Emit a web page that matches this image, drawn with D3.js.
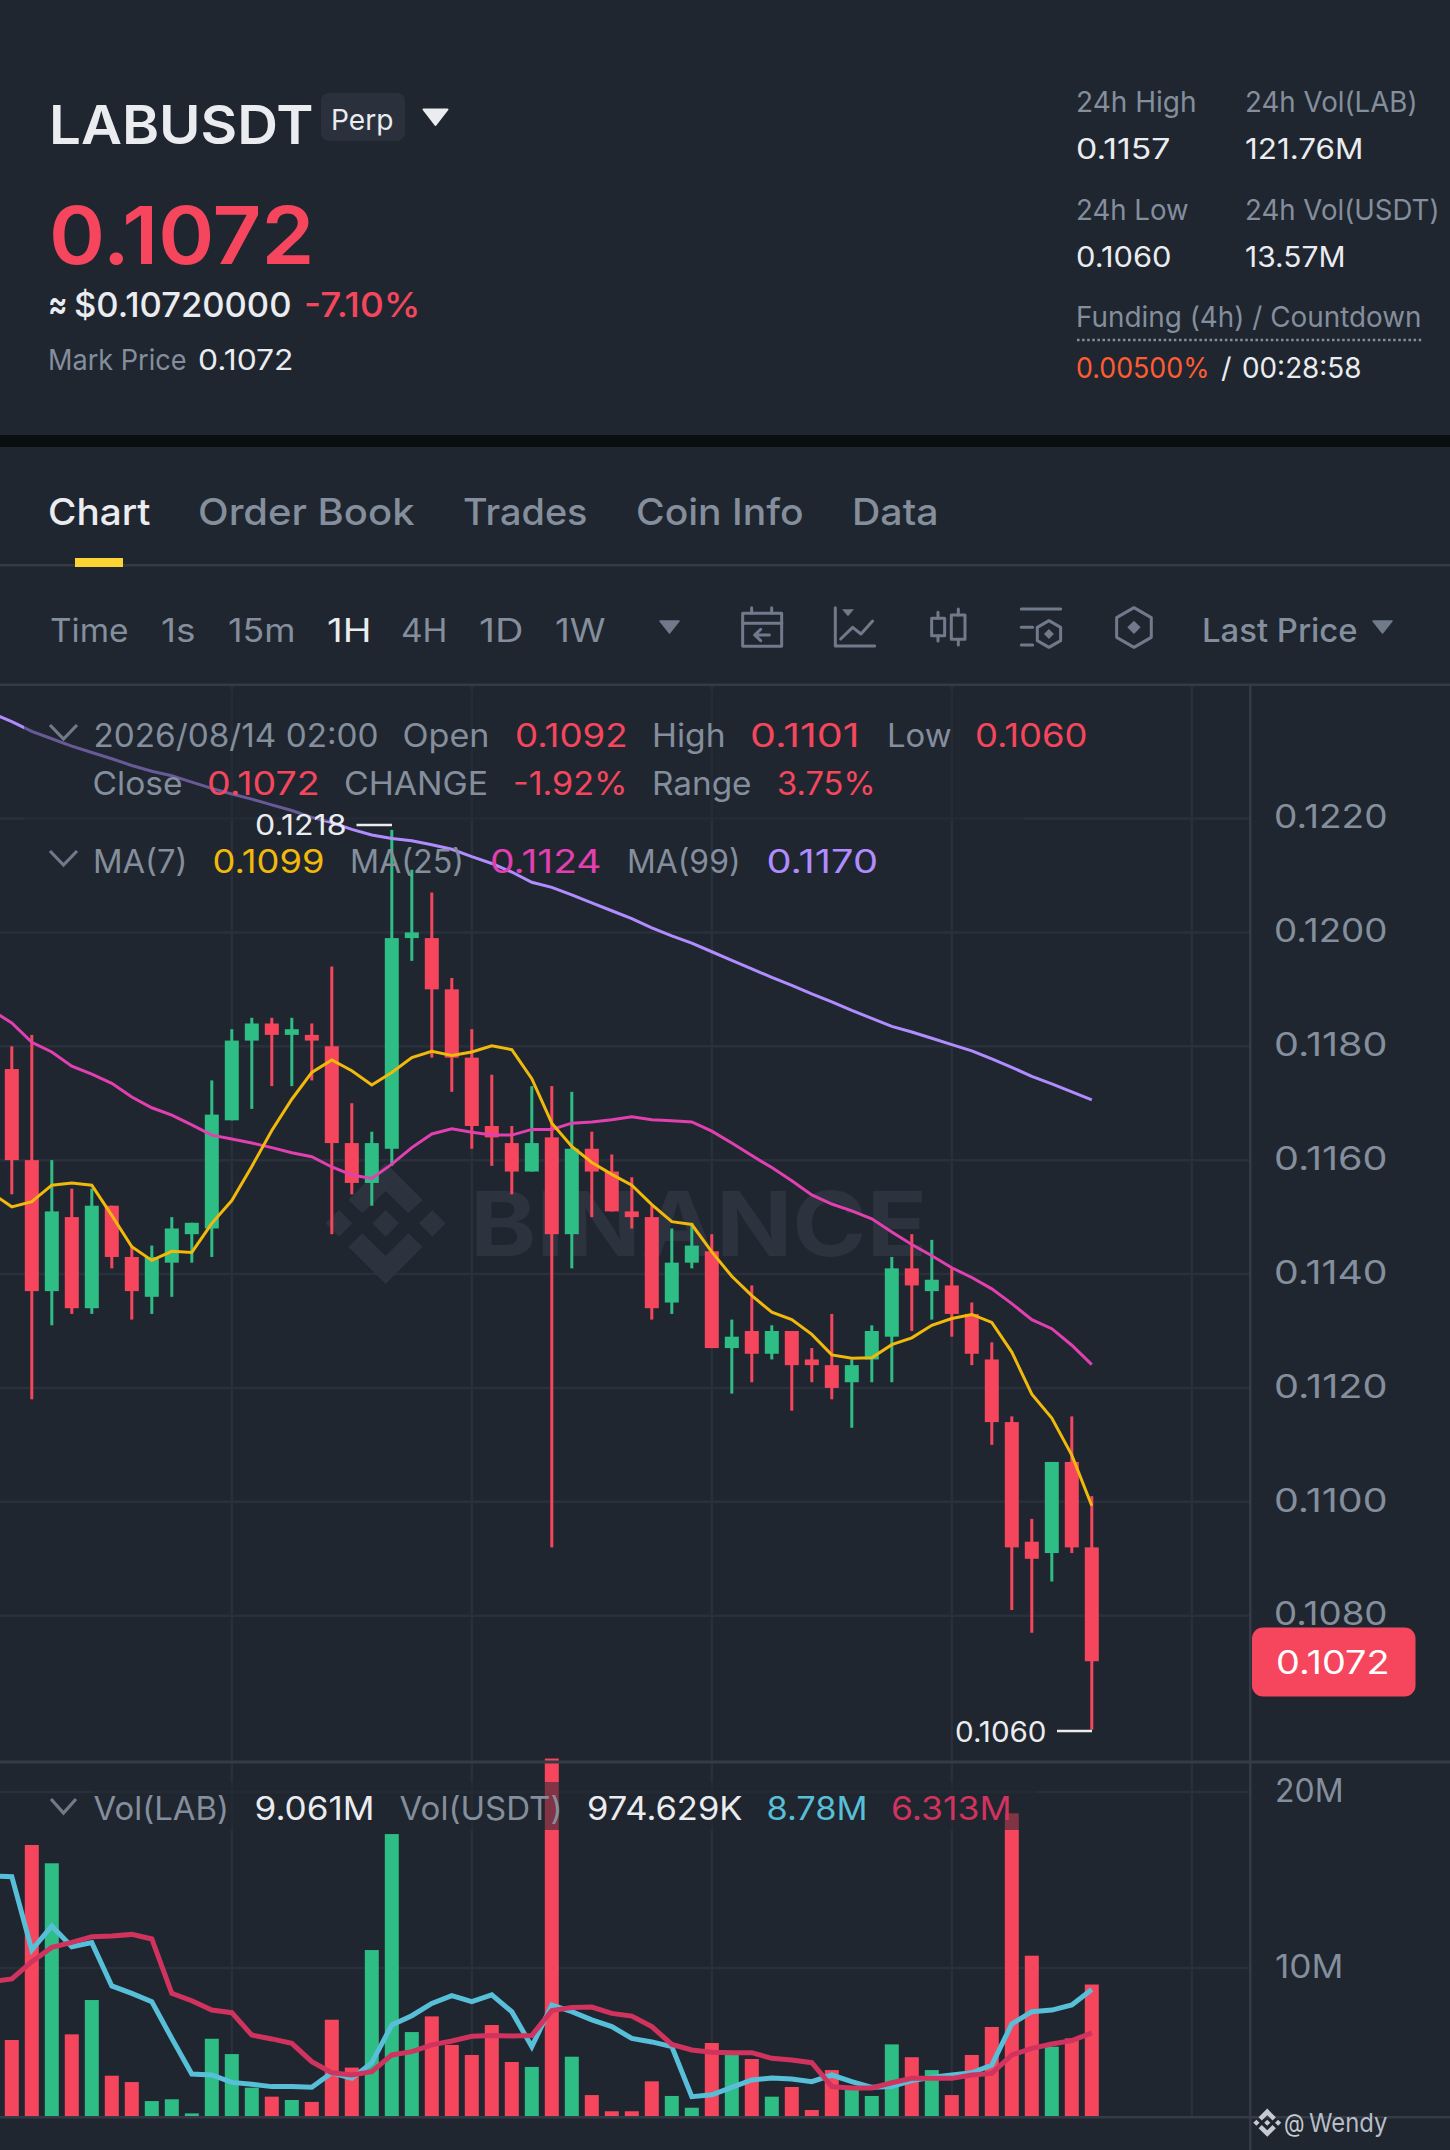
<!DOCTYPE html>
<html>
<head>
<meta charset="utf-8">
<script src="https://cdn.jsdelivr.net/npm/d3@7"></script>
<style>
html,body{margin:0;padding:0;background:#1f2630;}
svg{display:block;font-family:Inter,"Noto Sans",sans-serif;}
</style>
</head>
<body>
<svg id="c" width="1450" height="2150"></svg>
<script>
// ---------- data ----------
const opens  = [.1176,.1160,.1137,.1150,.1134,.1152,.1143,.1136,.1142,.1147,.1148,.1167,.1181,.1184,.1182,.1182,.1180,.1163,.1156,.1162,.1199,.1199,.1190,.1178,.1166,.1163,.1158,.1164,.1147,.1162,.1158,.1151,.1150,.1135,.1142,.1144,.1127,.1130,.1126,.1130,.1125,.1124,.1121,.1125,.1129,.1141,.1137,.1138,.1133,.1125,.1114,.1093,.1091,.1107,.1092];
const highs  = [.1180,.1182,.1160,.1155,.1155,.1152,.1145,.1145,.1150,.1149,.1174,.1183,.1185,.1185,.1185,.1184,.1194,.1170,.1165,.1218,.1211,.1207,.1192,.1183,.1175,.1166,.1173,.1173,.1172,.1165,.1161,.1157,.1152,.1148,.1149,.1147,.1132,.1138,.1131,.1130,.1127,.1133,.1125,.1131,.1143,.1147,.1146,.1141,.1135,.1128,.1115,.1097,.1107,.1115,.1101];
const lows   = [.1154,.1118,.1131,.1133,.1133,.1141,.1132,.1133,.1136,.1142,.1143,.1167,.1169,.1173,.1173,.1174,.1147,.1154,.1152,.1159,.1195,.1178,.1172,.1162,.1159,.1154,.1158,.1092,.1141,.1150,.1151,.1148,.1132,.1133,.1141,.1127,.1119,.1121,.1125,.1116,.1121,.1118,.1113,.1121,.1121,.1130,.1132,.1129,.1124,.1110,.1081,.1077,.1086,.1091,.1060];
const closes = [.1160,.1137,.1151,.1134,.1152,.1143,.1137,.1143,.1148,.1149,.1168,.1181,.1184,.1182,.1183,.1181,.1163,.1156,.1163,.1199,.1200,.1190,.1178,.1166,.1164,.1158,.1163,.1147,.1162,.1158,.1151,.1150,.1134,.1142,.1145,.1127,.1129,.1126,.1130,.1124,.1124,.1120,.1124,.1130,.1141,.1138,.1139,.1133,.1126,.1114,.1092,.1090,.1107,.1092,.1072];
const volumes = [5.91,16.99,15.95,6.23,8.18,3.88,3.52,2.44,2.54,1.74,5.98,5.11,3.20,2.69,2.50,2.39,7.06,4.34,11.02,17.61,6.36,7.25,5.63,5.06,6.76,4.66,4.38,21.9,4.96,2.78,1.86,1.86,3.56,2.73,2.06,5.74,5.06,4.83,2.69,3.24,1.93,4.20,3.07,2.73,5.66,4.93,4.20,2.78,5.06,6.65,18.79,10.70,5.53,6.00,9.061];
// moving averages: first value belongs to the candle just left of the frame
const ma7  = [.11542,.11518,.11527,.11556,.11560,.11556,.11503,.11448,.11424,.11440,.11438,.11489,.11529,.11589,.11652,.11707,.11754,.11776,.11757,.11732,.11754,.11780,.11791,.11784,.11790,.11801,.11794,.11743,.11665,.11624,.11596,.11575,.11556,.11522,.11492,.11487,.11439,.11396,.11362,.11333,.11320,.11294,.11258,.11252,.11253,.11276,.11288,.11310,.11322,.11329,.11315,.11263,.11189,.11147,.11082,.10993];
const ma25 = [.11863,.11841,.11807,.11790,.11765,.11751,.11735,.11711,.11692,.11679,.11662,.11644,.11637,.11630,.11622,.11613,.11606,.11588,.11574,.11568,.11593,.11622,.11646,.11655,.11649,.11644,.11644,.11654,.11654,.11665,.11667,.11671,.11676,.11671,.11669,.11667,.11651,.11630,.11608,.11587,.11564,.11539,.11523,.11511,.11497,.11474,.11452,.11432,.11411,.11394,.11374,.11348,.11320,.11304,.11275,.11241];
const ma99 = [.12385,.12370,.12353,.12340,.12327,.12316,.12305,.12293,.12283,.12275,.12264,.12253,.12243,.12234,.12224,.12214,.12202,.12193,.12181,.12171,.12165,.12161,.12154,.12146,.12133,.12121,.12106,.12088,.12079,.12066,.12052,.12038,.12024,.12008,.11994,.11981,.11966,.11951,.11936,.11921,.11907,.11892,.11878,.11863,.11849,.11835,.11825,.11814,.11803,.11792,.11778,.11763,.11747,.11734,.11720,.11706];
const volMa7  = [15.23,15.19,11.02,12.39,11.21,11.44,8.98,8.56,8.09,6.00,3.98,3.92,3.50,3.39,3.26,3.26,3.22,4.05,3.73,4.62,6.76,7.29,7.99,8.43,8.09,8.47,7.52,5.53,7.90,7.52,7.05,6.67,6.00,5.80,5.53,2.69,2.80,3.22,3.64,3.75,3.69,3.54,3.92,3.54,3.22,3.26,3.60,3.79,3.92,4.05,4.49,6.82,7.52,7.61,7.90,8.78];
const volMa25 = [9.22,9.38,10.36,11.17,11.46,11.78,11.82,11.91,11.65,8.56,8.14,7.61,7.46,6.19,5.97,5.72,4.68,4.05,3.92,4.11,5.06,5.25,5.63,5.85,6.12,6.16,6.14,6.17,7.58,7.76,7.78,7.42,7.27,6.67,5.66,5.34,5.21,5.19,5.19,4.87,4.77,4.62,3.26,3.18,3.18,3.48,3.73,3.73,3.73,3.92,4.01,5.06,5.43,5.68,5.87,6.313];
const priceTicks = [.1220,.1200,.1180,.1160,.1140,.1120,.1100,.1080];
const volumeTicks = [10,20];
const timeGridIndex = [11,23,35,47,59];
const tabLabels = ["Chart","Order Book","Trades","Coin Info","Data"];
const intervalLabels = ["Time","1s","15m","1H","4H","1D","1W"];

// ---------- palette ----------
const BG="#1f2630",UP="#2ebd85",DOWN="#f6465d",MUTED="#848e9c",WHITE="#eaecef",
      GRID="#29303b",LINE="#343b47",YEL="#f0b90b",PINK="#e23fb0",PUR="#b18cff",
      CYAN="#58bfd8",CRIM="#d1335f",ICON="#707a8a";

const svg=d3.select("#c");
svg.append("rect").attr("width",1450).attr("height",2150).attr("fill",BG);

function txt(str,x,y,size,fill,width,weight,g){
  const t=(g||svg).append("text").attr("x",x-1).attr("y",y).attr("font-size",size)
    .attr("fill",fill).attr("font-weight",weight||400).text(str);
  if(width){t.attr("textLength",width+1.5).attr("lengthAdjust","spacingAndGlyphs");}
  return t;
}

// ---------- scales ----------
const x=d3.scaleLinear().domain([0,54]).range([11.8,1091.8]);
const yP=d3.scaleLinear().domain([.1220,.1080]).range([818.5,1615.7]);
const yV=d3.scaleLinear().domain([0,20]).range([2144,1792]);
const BODY=14;

// ---------- header ----------
txt("LABUSDT",50,143.5,54,WHITE,263,600);
svg.append("rect").attr("x",321).attr("y",93).attr("width",84).attr("height",48).attr("rx",8).attr("fill","#2a313c");
txt("Perp",332,129.5,28,WHITE,61,400);
svg.append("path").attr("d","M423.5 109.5H447.5L435.5 125Z").attr("fill",WHITE).attr("stroke",WHITE).attr("stroke-width",2).attr("stroke-linejoin","round");
txt("0.1072",50,264,80,DOWN,264,600);
txt("≈",49,317,38,WHITE,18,600);
txt("$0.10720000",75,317,34,WHITE,216,500);
txt("-7.10%",305,317,34,DOWN,115,500);
txt("Mark Price",49,369.5,28,MUTED,137);
txt("0.1072",199,369.5,28,WHITE,94);

txt("24h High",1077,111.5,28,MUTED,119);
txt("24h Vol(LAB)",1246,111.5,28,MUTED,171);
txt("0.1157",1077,159,28,WHITE,93);
txt("121.76M",1246,159,28,WHITE,117);
txt("24h Low",1077,219.5,28,MUTED,111);
txt("24h Vol(USDT)",1246,219.5,28,MUTED,193);
txt("0.1060",1077,267,28,WHITE,94);
txt("13.57M",1246,267,28,WHITE,99);
txt("Funding (4h) / Countdown",1077,327,28,MUTED,344);
svg.append("line").attr("x1",1077).attr("x2",1422).attr("y1",340).attr("y2",340).attr("stroke",MUTED).attr("stroke-width",2.5).attr("stroke-dasharray","2.5 2.6");
txt("0.00500%",1077,378,28,"#ff5c33",132);
txt("/",1222,378,28,WHITE,9);
txt("00:28:58",1243,378,28,WHITE,118);

svg.append("rect").attr("y",435).attr("width",1450).attr("height",12).attr("fill","#0b0e11");

// ---------- tabs ----------
const tabX=[49,199,464,637,853], tabW=[101,215,123,166,85];
tabLabels.forEach((s,i)=>txt(s,tabX[i],524.5,37,i==0?WHITE:MUTED,tabW[i],500));
svg.append("rect").attr("y",564).attr("width",1450).attr("height",2.5).attr("fill",LINE);
svg.append("rect").attr("x",75).attr("y",558).attr("width",48).attr("height",9).attr("fill","#fcd535");

// ---------- toolbar ----------
const intX=[51,162,229,328,402,480,556], intW=[77,33,66,43,45,43,49];
intervalLabels.forEach((s,i)=>txt(s,intX[i],641.5,32,s=="1H"?WHITE:MUTED,intW[i]));
svg.append("path").attr("d","M660 621H679L669.5 633Z").attr("fill",ICON).attr("stroke",ICON).attr("stroke-width",1.5).attr("stroke-linejoin","round");
txt("Last Price",1203,641.5,32,MUTED,154,500);
svg.append("path").attr("d","M1373 621H1392L1382.5 633Z").attr("fill",ICON).attr("stroke",ICON).attr("stroke-width",1.5).attr("stroke-linejoin","round");
const ic=svg.append("g").attr("transform","translate(730,595) scale(0.3333)").attr("fill","none").attr("stroke",ICON).attr("stroke-width",9).attr("stroke-linecap","round").attr("stroke-linejoin","round");
["M38 55H155V154H38Z","M38 85H155","M65 38V55","M125 38V55","M118 120H74M92 103L74 120L92 137",
 "M316 38V153H434","M332 132L368 97L393 117L428 78",
 "M605 70H644V122H605Z","M624 52V70M624 122V138","M664 60H705V133H664Z","M685 42V60M685 133V150",
 "M874 42H992","M874 97H908","M874 150H908","M957 77L992 97V137L957 157L922 137V97Z",
 "M1212 38L1264 68V127L1212 157L1160 127V68Z"
].forEach(d=>ic.append("path").attr("d",d));
ic.append("path").attr("d","M336 43H372L354 64Z").attr("fill",ICON).attr("stroke","none");
ic.append("path").attr("d","M957 102L972 117L957 132L942 117Z").attr("fill",ICON).attr("stroke","none");
ic.append("path").attr("d","M1212 77L1232 97L1212 117L1192 97Z").attr("fill",ICON).attr("stroke","none");
svg.append("rect").attr("y",683.5).attr("width",1450).attr("height",2.5).attr("fill",LINE);

// ---------- grid ----------
const grid=svg.append("g").attr("stroke",GRID).attr("stroke-width",2.5);
timeGridIndex.forEach(i=>grid.append("line").attr("x1",x(i)).attr("x2",x(i)).attr("y1",686).attr("y2",2117));
priceTicks.forEach(p=>grid.append("line").attr("x1",0).attr("x2",1250).attr("y1",yP(p)).attr("y2",yP(p)));
volumeTicks.forEach(v=>grid.append("line").attr("x1",0).attr("x2",1250).attr("y1",yV(v)).attr("y2",yV(v)));

// ---------- watermark ----------
const LOGO=["M85 120L197 8L308 120L265 160L197 93L127 160Z","M85 260L127 220L197 288L265 220L308 260L197 372Z",
  "M197 150L237 190L197 230L157 190Z","M57 150L97 190L57 230L17 190Z","M337 150L377 190L337 230L297 190Z"];
const wm=svg.append("g").attr("transform","translate(320,1160) scale(0.3333)").attr("fill","#2d333e");
LOGO.forEach(d=>wm.append("path").attr("d",d));
txt("BINANCE",471,1256,90,"#2d333e",456,700);

// ---------- volume pane ----------
svg.append("clipPath").attr("id","vc").append("rect").attr("x",0).attr("y",1755).attr("width",1250).attr("height",361);
const vp=svg.append("g").attr("clip-path","url(#vc)");
vp.selectAll("rect.v").data(volumes).join("rect").attr("class","v")
  .attr("x",(d,i)=>x(i)-BODY/2).attr("width",BODY)
  .attr("y",d=>yV(d)).attr("height",d=>yV(0)-yV(d))
  .attr("fill",(d,i)=>closes[i]>=opens[i]?UP:DOWN);
const vLine=d3.line().x((d,i)=>x(i-1)).y(d=>yV(d));
vp.append("path").attr("d",vLine(volMa7)).attr("fill","none").attr("stroke",CYAN).attr("stroke-width",5).attr("stroke-linejoin","miter");
vp.append("path").attr("d",vLine(volMa25)).attr("fill","none").attr("stroke",CRIM).attr("stroke-width",5).attr("stroke-linejoin","miter");

// ---------- candles ----------
const cs=svg.append("g").selectAll("g").data(opens).join("g")
  .attr("fill",(d,i)=>closes[i]>=opens[i]?UP:DOWN);
cs.append("rect").attr("x",(d,i)=>x(i)-1.5).attr("width",3)
  .attr("y",(d,i)=>yP(highs[i])).attr("height",(d,i)=>yP(lows[i])-yP(highs[i]));
cs.append("rect").attr("x",(d,i)=>x(i)-BODY/2).attr("width",BODY)
  .attr("y",(d,i)=>yP(Math.max(opens[i],closes[i])))
  .attr("height",(d,i)=>Math.max(2,Math.abs(yP(opens[i])-yP(closes[i]))));

// ---------- price moving averages ----------
const pLine=d3.line().x((d,i)=>x(i-1)).y(d=>yP(d));
[[ma99,PUR],[ma25,PINK],[ma7,YEL]].forEach(([a,c])=>
  svg.append("path").attr("d",pLine(a)).attr("fill","none").attr("stroke",c).attr("stroke-width",3));

// ---------- legend backdrops ----------
svg.append("rect").attr("x",24).attr("y",690).attr("width",1000).attr("height",131).attr("fill",BG).attr("fill-opacity",.5);
svg.append("rect").attr("x",92).attr("y",1782).attr("width",946).attr("height",48).attr("fill",BG).attr("fill-opacity",.55);

// ---------- high/low marks ----------
txt("0.1218",256,835,28,WHITE,90);
svg.append("line").attr("x1",356.5).attr("x2",392).attr("y1",yP(.1218)-5).attr("y2",yP(.1218)-5).attr("stroke",WHITE).attr("stroke-width",2.5);
txt("0.1060",956,1742,28,WHITE,90);
svg.append("line").attr("x1",1057).attr("x2",1092).attr("y1",yP(.1060)+1.5).attr("y2",yP(.1060)+1.5).attr("stroke",WHITE).attr("stroke-width",2.5);

// ---------- legends ----------
function chevron(x0,y0,w,h){svg.append("path").attr("d",`M${x0} ${y0}L${x0+w/2} ${y0+h}L${x0+w} ${y0}`).attr("fill","none").attr("stroke",ICON).attr("stroke-width",3.2);}
chevron(50,725,27,14); chevron(50,851,27,14); chevron(51,1799,25,14);
const S=32;
txt("2026/08/14 02:00",94.5,747,S,MUTED,283.5);
txt("Open",403.5,747,S,MUTED,85.5);
txt("0.1092",516,747,S,DOWN,111);
txt("High",653,747,S,MUTED,72);
txt("0.1101",751,747,S,DOWN,108);
txt("Low",888,747,S,MUTED,63);
txt("0.1060",976,747,S,DOWN,111);
txt("Close",93.5,795,S,MUTED,88.5);
txt("0.1072",208,795,S,DOWN,111);
txt("CHANGE",345,795,S,MUTED,142.5);
txt("-1.92%",514,795,S,DOWN,113);
txt("Range",653,795,S,MUTED,98);
txt("3.75%",778,795,S,DOWN,97);
txt("MA(7)",94,873,S,MUTED,93);
txt("0.1099",213.5,873,S,YEL,110.5);
txt("MA(25)",351,873,S,MUTED,112.5);
txt("0.1124",491,873,S,PINK,110);
txt("MA(99)",628,873,S,MUTED,112);
txt("0.1170",767.5,873,S,PUR,110);
txt("Vol(LAB)",94.5,1820,S,MUTED,134);
txt("9.061M",255.5,1820,S,WHITE,118.5);
txt("Vol(USDT)",400.5,1820,S,MUTED,161.5);
txt("974.629K",588,1820,S,WHITE,154);
txt("8.78M",767.5,1820,S,CYAN,99.5);
txt("6.313M",892,1820,S,CRIM,119);

// ---------- separators and axes ----------
svg.append("rect").attr("x",0).attr("y",1760.5).attr("width",1450).attr("height",3).attr("fill",LINE);
svg.append("rect").attr("x",0).attr("y",2116).attr("width",1450).attr("height",2.5).attr("fill",LINE);
svg.append("rect").attr("x",1249).attr("y",686).attr("width",2.5).attr("height",1464).attr("fill",LINE);

function styleAxis(g,w){
  g.select(".domain").remove();
  g.selectAll(".tick line").remove();
  g.selectAll("text").attr("x",24).attr("dy","9.2px").attr("fill",MUTED)
    .attr("font-size",32).attr("font-family",'Inter,"Noto Sans",sans-serif').attr("text-anchor","start")
    .attr("textLength",w).attr("lengthAdjust","spacingAndGlyphs");
}
svg.append("g").attr("transform","translate(1250,0)")
  .call(d3.axisRight(yP).tickValues(priceTicks).tickFormat(d3.format(".4f")))
  .call(styleAxis,113.5);
svg.append("g").attr("transform","translate(1251,0)")
  .call(d3.axisRight(yV).tickValues(volumeTicks).tickFormat(d=>d+"M"))
  .call(styleAxis,68.5);

// ---------- current price tag ----------
svg.append("rect").attr("x",1252).attr("y",1627.5).attr("width",163.5).attr("height",69).attr("rx",11).attr("fill",DOWN);
txt("0.1072",1277,1673.5,32,"#ffffff",112);

// ---------- signature ----------
const sig=svg.append("g").attr("transform","translate(1252,2108) scale(0.0775)").attr("fill","#c6cad1");
LOGO.forEach(d=>sig.append("path").attr("d",d));
txt("@",1285,2132,25,"#c6cad1",19);
txt("Wendy",1310,2132,26,"#b7bdc6",77);
</script>
</body>
</html>
